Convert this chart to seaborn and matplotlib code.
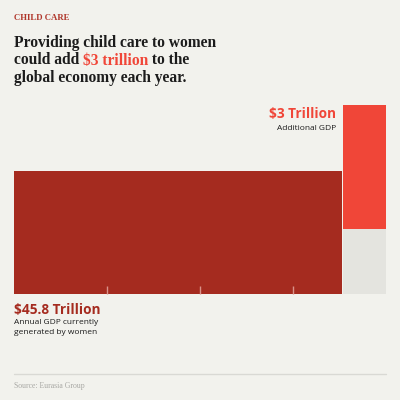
import matplotlib
matplotlib.use("Agg")
import matplotlib.pyplot as plt
import seaborn as sns
import pandas as pd

# ---- data ----
categories = ["Annual GDP currently generated by women", "Additional GDP"]
values = [45.8, 3.0]           # trillion USD
value_labels = ["$45.8 Trillion", "$3 Trillion"]
tick_values = [13, 26, 39]

BG = "#f2f2ed"
DARK = "#a52b1f"
RED = "#f04638"
GREY = "#e4e4df"
INK = "#1c1c1c"

sns.set_theme(style="white")
plt.rcParams["font.family"] = ["DejaVu Sans"]

W = H = 400
fig = plt.figure(figsize=(4, 4), dpi=100, facecolor=BG)

def px(x0, y0, x1, y1):
    return [x0 / W, 1 - y1 / H, (x1 - x0) / W, (y1 - y0) / H]

# ---- left: big bar (current GDP) ----
axL = fig.add_axes(px(14, 171, 342, 294))
dfL = pd.DataFrame({"cat": [categories[0]], "val": [values[0]]})
sns.barplot(data=dfL, x="val", y="cat", orient="h", color=DARK,
            width=1.0, saturation=1, ax=axL, edgecolor="none")
axL.set_xlim(0, values[0])
axL.set_ylim(0.5, -0.5)
axL.set_facecolor(BG)
axL.set_axisbelow(False)
for s in axL.spines.values():
    s.set_visible(False)
axL.set_xlabel(""); axL.set_ylabel("")
axL.set_yticks([])
axL.set_xticks(tick_values)
axL.set_xticklabels([])
axL.tick_params(axis="x", direction="in", length=6, width=1.0,
                color="#d9928a", pad=0, bottom=True)
for tl in axL.xaxis.get_ticklines():
    tl.set_zorder(5)

# ---- right: additional GDP column ----
axR = fig.add_axes(px(342.8, 105, 386, 294))
dfR = pd.DataFrame({"cat": [categories[1]], "val": [values[1]]})
sns.barplot(data=dfR, x="cat", y="val", color=RED, width=1.0,
            saturation=1, ax=axR, edgecolor="none")
axR.set_facecolor(GREY)
axR.set_xlim(-0.5, 0.5)
axR.set_ylim(values[1] * 189 / 124, 0)
for s in axR.spines.values():
    s.set_visible(False)
axR.set_xticks([]); axR.set_yticks([])
axR.set_xlabel(""); axR.set_ylabel("")

# ---- texts ----
def fx(x):
    return x / W

def fy(y):
    return 1 - y / H

serif = ["Liberation Serif", "DejaVu Serif"]
fig.text(fx(14), fy(18), "CHILD CARE", family=serif, fontsize=6.3,
         fontweight="bold", color="#b0372b", va="center", ha="left")

title_kw = dict(family=serif, fontweight="bold", fontsize=11.2,
                va="center", ha="left")
fig.text(fx(14), fy(43), "Providing child care to women", color=INK, **title_kw)
t1 = fig.text(fx(14), fy(60.5), "could add ", color=INK, **title_kw)
fig.canvas.draw()
r = fig.canvas.get_renderer()
bb = t1.get_window_extent(r)
t2 = fig.text(bb.x1 / W, fy(60.5), "\\$3 trillion", color=RED, **title_kw)
bb2 = t2.get_window_extent(r)
fig.text(bb2.x1 / W, fy(60.5), " to the", color=INK, **title_kw)
fig.text(fx(14), fy(78), "global economy each year.", color=INK, **title_kw)

sans = ["Open Sans", "DejaVu Sans"]
fig.text(fx(336), fy(114), value_labels[1].replace("$", "\\$"), family=sans,
         fontweight="bold", fontsize=9.8, color=RED, ha="right", va="center")
fig.text(fx(336), fy(128), categories[1], family=sans, fontsize=6.0,
         color=INK, ha="right", va="center")

fig.text(fx(14), fy(310), value_labels[0].replace("$", "\\$"), family=sans,
         fontweight="bold", fontsize=9.8, color=DARK, ha="left", va="center")
fig.text(fx(14), fy(323), "Annual GDP currently", family=sans, fontsize=6.0,
         color=INK, ha="left", va="center")
fig.text(fx(14), fy(333), "generated by women", family=sans, fontsize=6.0,
         color=INK, ha="left", va="center")

fig.add_artist(plt.Line2D([fx(14), fx(386)], [fy(374), fy(374)],
                          color="#d9d9d4", lw=1.0))
fig.text(fx(14), fy(386), "Source: Eurasia Group", family=serif,
         fontsize=5.6, color="#a8a8a4", ha="left", va="center")

fig.savefig("out.png", dpi=100, facecolor=BG)
